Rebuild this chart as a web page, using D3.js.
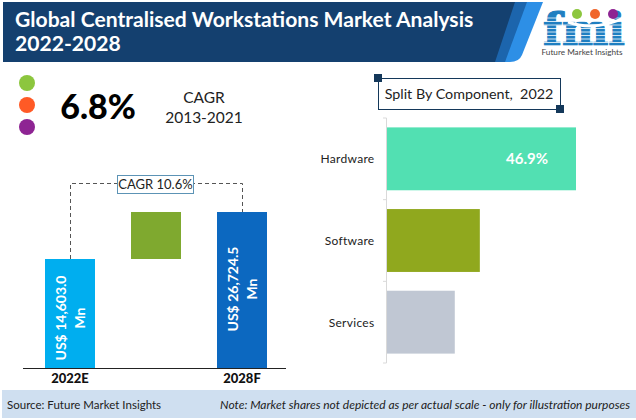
<!DOCTYPE html>
<html>
<head>
<meta charset="utf-8">
<script src="https://cdn.jsdelivr.net/npm/d3@7"></script>
<style>
  html, body { margin: 0; padding: 0; background: #fff; }
  svg { display: block; }
  text { font-family: Lato, sans-serif; }
  .axis path, .axis line { display: none; }
</style>
</head>
<body>
<div id="chart"></div>
<script>
// Market size bars (left panel)
const sizeCategories = ["2022E", "Growth", "2028F"];
const sizeValues = [14603.0, 26724.5];
const sizeLabels = ["US$ 14,603.0", "US$ 26,724.5"];

// Split by component (right panel)
const components = ["Hardware", "Software", "Services"];
const componentShares = [46.9, 23.1, 16.9];
const componentColors = ["#52e0b2", "#90a81e", "#c0c7d3"];

const titleLines = ["Global Centralised Workstations Market Analysis", "2022-2028"];
const dotColors = ["#8cc63e", "#ff5a26", "#8e2493"];

const svg = d3.select("#chart").append("svg")
    .attr("width", 636)
    .attr("height", 420);

// Header banner
svg.append("path").attr("d", "M3 2H543L522 55Q519 62 510 62H3Z").attr("fill", "#2d8fe6");
svg.append("path").attr("d", "M3 2H527L505 62H3Z").attr("fill", "#1c65ad");
svg.append("path").attr("d", "M3 2H515L495 62H3Z").attr("fill", "#14406f");

svg.selectAll(".title").data(titleLines).enter().append("text")
    .attr("class", "title")
    .attr("x", 15)
    .attr("y", (d, i) => 27 + i * 24)
    .attr("fill", "#fff")
    .style("font-size", "21.1px")
    .style("font-weight", "700")
    .text(d => d);

// Logo
const logo = svg.append("g");
logo.append("text")
    .attr("x", 543).attr("y", 45)
    .attr("textLength", 82)
    .attr("lengthAdjust", "spacingAndGlyphs")
    .attr("fill", "#1f7fc1")
    .attr("stroke", "#1f7fc1")
    .attr("stroke-width", 1.2)
    .style("font-family", "'DejaVu Serif', serif")
    .style("font-weight", "700")
    .style("font-size", "44px")
    .text("fmi");
d3.range(18, 47, 3.5).forEach(y => {
    logo.append("line")
        .attr("x1", 540).attr("x2", 630)
        .attr("y1", y).attr("y2", y)
        .attr("stroke", "#fff").attr("stroke-width", 0.8);
});
logo.append("path")
    .attr("d", "M568 22Q595 32 626 17")
    .attr("fill", "none").attr("stroke", "#fff").attr("stroke-width", 3);
logo.selectAll("circle").data(["#8cc63e", "#f0662b", "#8e2493"]).enter().append("circle")
    .attr("cx", (d, i) => 577 + i * 18)
    .attr("cy", 14)
    .attr("r", 5)
    .attr("fill", d => d);
logo.append("text")
    .attr("x", 582).attr("y", 55)
    .attr("text-anchor", "middle")
    .attr("fill", "#444")
    .style("font-size", "8.2px")
    .text("Future Market Insights");

// CAGR block
svg.selectAll(".dot").data(dotColors).enter().append("circle")
    .attr("class", "dot")
    .attr("cx", 27)
    .attr("cy", (d, i) => 83 + i * 22)
    .attr("r", 8)
    .attr("fill", d => d);

svg.append("text")
    .attr("x", 98).attr("y", 119)
    .attr("text-anchor", "middle")
    .attr("fill", "#000")
    .style("font-weight", "900")
    .style("font-size", "34px")
    .text("6.8%");

svg.selectAll(".cagr").data(["CAGR", "2013-2021"]).enter().append("text")
    .attr("class", "cagr")
    .attr("x", 204)
    .attr("y", (d, i) => 103 + i * 20)
    .attr("text-anchor", "middle")
    .attr("fill", "#222")
    .style("font-size", "15.5px")
    .text(d => d);

// Left panel scales
const x = d3.scaleBand()
    .domain(sizeCategories)
    .range([45, 267])
    .paddingInner(0.4186);

// the note says bars are not to scale, so the two values map on to the drawn heights
const y = d3.scaleLinear()
    .domain(sizeValues)
    .range([259, 212]);
const baseY = 368;

const connectY = 183.5;
const connector = d3.line();
svg.append("path")
    .attr("d", connector([
        [x("2022E") + x.bandwidth() / 2 + 0.5, y(sizeValues[0])],
        [x("2022E") + x.bandwidth() / 2 + 0.5, connectY],
        [x("2028F") + x.bandwidth() / 2 + 0.5, connectY],
        [x("2028F") + x.bandwidth() / 2 + 0.5, y(sizeValues[1])]
    ]))
    .attr("fill", "none")
    .attr("stroke", "#555")
    .attr("stroke-dasharray", "4,3");

svg.append("rect")
    .attr("x", 117.5).attr("y", 175.5)
    .attr("width", 76).attr("height", 18)
    .attr("fill", "#fff")
    .attr("stroke", "#5c93b5");
svg.append("text")
    .attr("x", 155.5).attr("y", 189)
    .attr("text-anchor", "middle")
    .attr("fill", "#222")
    .style("font-size", "13px")
    .text("CAGR 10.6%");

svg.append("rect")
    .attr("x", x("2022E")).attr("y", y(sizeValues[0]))
    .attr("width", x.bandwidth()).attr("height", baseY - y(sizeValues[0]))
    .attr("fill", "#00aeef");
svg.append("rect")
    .attr("x", x("Growth")).attr("y", y(sizeValues[1]))
    .attr("width", x.bandwidth()).attr("height", y(sizeValues[0]) - y(sizeValues[1]))
    .attr("fill", "#7fa92f");
svg.append("rect")
    .attr("x", x("2028F")).attr("y", y(sizeValues[1]))
    .attr("width", x.bandwidth()).attr("height", baseY - y(sizeValues[1]))
    .attr("fill", "#0c68c0");

// Rotated value labels
[["2022E", 318, 0], ["2028F", 289, 1]].forEach(([cat, cy, i]) => {
    const g = svg.append("g")
        .attr("transform", `translate(${x(cat) + x.bandwidth() / 2},${cy}) rotate(-90)`);
    g.append("text")
        .attr("text-anchor", "middle")
        .attr("y", -4)
        .attr("fill", "#fff")
        .style("font-size", "14px")
        .style("font-weight", "700")
        .text(sizeLabels[i]);
    g.append("text")
        .attr("text-anchor", "middle")
        .attr("y", 15)
        .attr("fill", "#fff")
        .style("font-size", "14px")
        .style("font-weight", "700")
        .text("Mn");
});

svg.append("line")
    .attr("x1", 23).attr("x2", 286)
    .attr("y1", baseY + 0.5).attr("y2", baseY + 0.5)
    .attr("stroke", "#222");

svg.append("g")
    .attr("class", "axis")
    .attr("transform", `translate(0,${baseY})`)
    .call(d3.axisBottom(x).tickSize(0).tickPadding(6).tickFormat(d => d === "Growth" ? "" : d))
    .selectAll("text")
    .attr("fill", "#111")
    .style("font-family", "Lato, sans-serif")
    .style("font-size", "13px")
    .style("font-weight", "900");

// Right panel
svg.append("rect")
    .attr("x", 378.5).attr("y", 78.5)
    .attr("width", 182).attr("height", 31)
    .attr("fill", "#fff")
    .attr("stroke", "#14385a");
[[378, 78], [560, 109]].forEach(p => {
    svg.append("rect")
        .attr("x", p[0] - 4).attr("y", p[1] - 4)
        .attr("width", 8).attr("height", 8)
        .attr("fill", "#14385a");
});
svg.append("text")
    .attr("x", 469).attr("y", 99)
    .attr("text-anchor", "middle")
    .attr("fill", "#222")
    .style("font-size", "14.3px")
    .style("white-space", "pre")
    .text("Split By Component,  2022");

const barX = d3.scaleLinear()
    .domain([0, 46.9])
    .range([386.5, 576]);
const barY = d3.scaleBand()
    .domain(components)
    .range([118, 363])
    .paddingInner(0.23)
    .paddingOuter(0.115);

svg.selectAll(".share").data(components).enter().append("rect")
    .attr("class", "share")
    .attr("x", barX(0))
    .attr("y", d => barY(d))
    .attr("width", (d, i) => barX(componentShares[i]) - barX(0))
    .attr("height", barY.bandwidth())
    .attr("fill", (d, i) => componentColors[i]);

svg.append("line")
    .attr("x1", 386.5).attr("x2", 386.5)
    .attr("y1", 118).attr("y2", 363)
    .attr("stroke", "#d9d9d9");
d3.range(0, components.length + 1).forEach(i => {
    svg.append("line")
        .attr("x1", 383).attr("x2", 386.5)
        .attr("y1", 118 + i * barY.step()).attr("y2", 118 + i * barY.step())
        .attr("stroke", "#d9d9d9");
});

svg.append("g")
    .attr("class", "axis")
    .attr("transform", "translate(374.5,0.5)")
    .call(d3.axisLeft(barY).tickSize(0).tickPadding(0))
    .selectAll("text")
    .attr("fill", "#222")
    .style("font-family", "Lato, sans-serif")
    .style("font-size", "12px")
    .style("letter-spacing", "0.3px");

svg.append("text")
    .attr("x", 527).attr("y", 164)
    .attr("text-anchor", "middle")
    .attr("fill", "#fff")
    .style("font-size", "15px")
    .style("font-weight", "700")
    .text(componentShares[0].toFixed(1) + "%");

// Footer
svg.append("rect")
    .attr("x", 2).attr("y", 390)
    .attr("width", 634).attr("height", 28)
    .attr("fill", "#cfdff0");
svg.append("text")
    .attr("x", 7).attr("y", 409)
    .attr("fill", "#222")
    .style("font-size", "11.5px")
    .text("Source: Future Market Insights");
svg.append("text")
    .attr("x", 630).attr("y", 409)
    .attr("text-anchor", "end")
    .attr("fill", "#222")
    .style("font-size", "12px")
    .style("font-style", "italic")
    .text("Note: Market shares not depicted as per actual scale - only for illustration purposes");
</script>
</body>
</html>
